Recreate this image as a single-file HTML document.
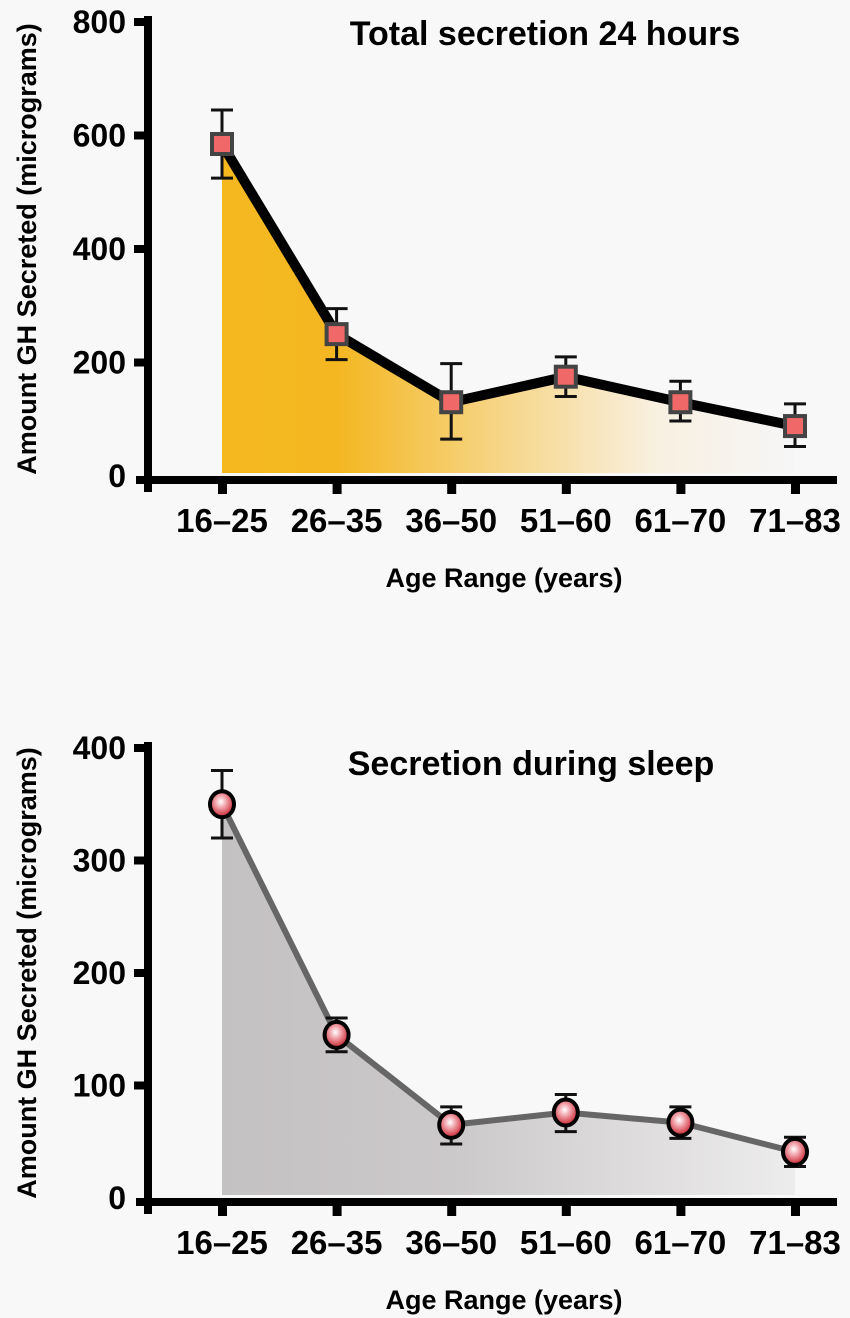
<!DOCTYPE html>
<html><head><meta charset="utf-8"><style>
body{margin:0;background:#f9f8f9;}
svg{display:block;font-family:"Liberation Sans",sans-serif;font-weight:bold;}
</style></head><body>
<svg id="s" width="850" height="1318" viewBox="0 0 850 1318">
<defs>
<linearGradient id="gold" x1="222" x2="800" y1="0" y2="0" gradientUnits="userSpaceOnUse">
<stop offset="0" stop-color="#f5b81f"/><stop offset="0.2" stop-color="#f4b722"/>
<stop offset="0.45" stop-color="#f6d27c"/><stop offset="0.75" stop-color="#f8f0e0"/><stop offset="1" stop-color="#f6f6f8"/></linearGradient>
<linearGradient id="grey" x1="222" x2="800" y1="0" y2="0" gradientUnits="userSpaceOnUse">
<stop offset="0" stop-color="#c4c1c2"/><stop offset="0.4" stop-color="#ccc9ca"/><stop offset="1" stop-color="#eeedee"/></linearGradient>
<radialGradient id="ball" cx="0.45" cy="0.4" r="0.6"><stop offset="0" stop-color="#ffffff"/><stop offset="0.4" stop-color="#f0a0a8"/><stop offset="1" stop-color="#c8202c"/></radialGradient>
</defs>
<g id="top"></g><g id="bot"></g>
</svg>
<script>
const categories=["16–25","26–35","36–50","51–60","61–70","71–83"];
const totalValues=[585,250,130,175,130,88];
const totalLow=[525,205,65,140,97,52];
const totalHigh=[645,295,198,210,167,127];
const sleepValues=[350,145,65,76,67,41];
const sleepLow=[320,130,48,59,53,28];
const sleepHigh=[380,160,81,92,81,54];
const topTicks=[0,200,400,600,800];
const botTicks=[0,100,200,300,400];
const NS="http://www.w3.org/2000/svg";
function mk(p,t,a,txt){const e=document.createElementNS(NS,t);for(const k in a)e.setAttribute(k,a[k]);if(txt!==undefined)e.textContent=txt;p.appendChild(e);return e;}
const xPos=i=>222+i*114.6;
function chart(g,cfg){
  const y=v=>cfg.y0-(v/cfg.max)*(cfg.y0-cfg.yTop);
  const vals=cfg.vals;
  let d=`M${xPos(0)},${cfg.y0-3}`;vals.forEach((v,i)=>d+=`L${xPos(i)},${y(v)}`);d+=`L${xPos(vals.length-1)},${cfg.y0-3}Z`;
  const a=mk(g,'path',{d:d,fill:cfg.fill});
  
  const l=mk(g,'polyline',{points:vals.map((v,i)=>xPos(i)+','+y(v)).join(' '),fill:'none',stroke:cfg.lineColor,'stroke-width':cfg.lw,'stroke-linejoin':'round'});
  
  const ya=mk(g,'rect',{x:144,y:cfg.yTop-6,width:8,height:cfg.y0-cfg.yTop+22,fill:'#000'});
  
  const xa=mk(g,'rect',{x:136,y:cfg.y0,width:701,height:8,fill:'#000'});
  
  cfg.ticks.forEach(t=>{
    if(t!==0) mk(g,'rect',{x:134,y:y(t)-4,width:12,height:8,fill:'#000'});
    const tl=mk(g,'text',{x:126,y:y(t)+11,'text-anchor':'end','font-size':32,fill:'#000'},t);
    
  });
  categories.forEach((c,i)=>{
    mk(g,'rect',{x:xPos(i)-4,y:cfg.y0+4,width:9,height:14,fill:'#000'});
    const tl=mk(g,'text',{x:xPos(i),y:cfg.y0+56,'text-anchor':'middle','font-size':33,fill:'#000'},c);
    
  });
  vals.forEach((v,i)=>{
    const x=xPos(i);
    const eb=mk(g,'path',{d:`M${x},${y(cfg.hi[i])}V${y(cfg.lo[i])}M${x-11},${y(cfg.hi[i])}H${x+11}M${x-11},${y(cfg.lo[i])}H${x+11}`,stroke:'#111','stroke-width':3,fill:'none'});
    
    let m;
    if(cfg.square){m=mk(g,'rect',{x:x-10,y:y(v)-10,width:20,height:20,fill:'#f06868',stroke:'#444','stroke-width':4});}
    else{m=mk(g,'ellipse',{cx:x,cy:y(v),rx:12,ry:13,fill:'url(#ball)',stroke:'#000','stroke-width':4});}
    
  });
  const t=mk(g,'text',{x:cfg.titleX,y:cfg.titleY,'text-anchor':'middle','font-size':34,fill:'#000'},cfg.title);
  
  const xt=mk(g,'text',{x:504,y:cfg.y0+111,'text-anchor':'middle','font-size':27,fill:'#000'},'Age Range (years)');
  
  const yc=(cfg.yTop+cfg.y0)/2;
  const yt=mk(g,'text',{x:36,y:yc,'text-anchor':'middle','font-size':27,fill:'#000',transform:`rotate(-90 36 ${yc})`},'Amount GH Secreted (micrograms)');
  
}
chart(document.getElementById('top'),{y0:476,yTop:22,max:800,vals:totalValues,lo:totalLow,hi:totalHigh,ticks:topTicks,fill:'url(#gold)',lineColor:'#000',lw:10,square:true,title:'Total secretion 24 hours',titleX:545,titleY:45});
chart(document.getElementById('bot'),{y0:1198,yTop:748,max:400,vals:sleepValues,lo:sleepLow,hi:sleepHigh,ticks:botTicks,fill:'url(#grey)',lineColor:'#666',lw:6,square:false,title:'Secretion during sleep',titleX:531,titleY:775});
</script>
</body></html>
